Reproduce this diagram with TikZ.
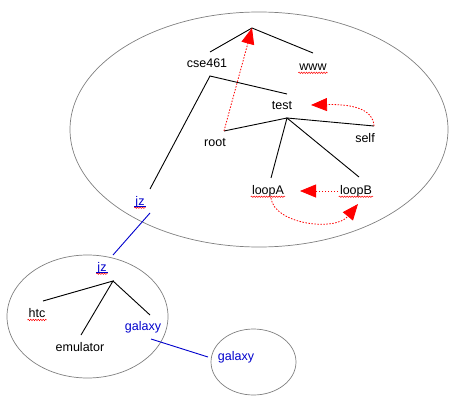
\documentclass[tikz,border=0pt]{standalone}
\usepackage{fontspec}
\setmainfont{Liberation Sans}
\usetikzlibrary{arrows.meta,shapes.geometric,decorations.pathmorphing}
\definecolor{linkblue}{RGB}{0,0,204}
\begin{document}
\begin{tikzpicture}[x=1pt,y=-1pt]
\tikzstyle {lbl}=[inner sep=1pt, font=\fontsize{12.5}{14}\selectfont]
\tikzstyle {lblb}=[lbl, text=linkblue]
\tikzstyle {oval}=[ellipse, draw=gray, line width=0.7pt, inner sep=0pt]
\tikzstyle {br}=[line width=0.9pt]
\tikzstyle {ptr}=[red, dash pattern=on 1.5pt off 1.5pt, line width=0.8pt, -{Triangle[length=16pt,width=13pt]}]
\tikzstyle {lnk}=[linkblue, line width=0.9pt]
\tikzstyle {wavy}=[red, line width=0.5pt, decorate, decoration={snake, amplitude=0.7pt, segment length=2.5pt}]
\useasboundingbox (0,0) rectangle (454,406);
\node (home) [oval, minimum width=378pt, minimum height=235pt] at (259,129.5) {};
\node (phone) [oval, minimum width=161pt, minimum height=123pt] at (87.5,316.5) {};
\node (dev) [oval, minimum width=85pt, minimum height=66pt] at (253.5,362) {};
\node (cse) [lbl] at (207,63) {cse461};
\node (www) [lbl] at (313,67) {www};
\node (test) [lbl] at (282,106) {test};
\node (root) [lbl] at (215,143) {root};
\node (self) [lbl] at (365,138) {self};
\node (loopA) [lbl] at (268,191) {loopA};
\node (loopB) [lbl] at (356,191) {loopB};
\node (jz) [lblb] at (140,202) {jz};
\node (jzb) [lblb] at (102,268) {jz};
\node (htc) [lbl] at (37,313) {htc};
\node (emu) [lbl] at (80,347) {emulator};
\node (gal) [lblb] at (143,327) {galaxy};
\node (galb) [lblb] at (236,357) {galaxy};
\coordinate (top) at (252,28);
\coordinate (cseup) at (210,52);
\coordinate (wwwup) at (313,53);
\coordinate (csedown) at (210,76);
\coordinate (jzup) at (150,189);
\coordinate (testup) at (287,94);
\coordinate (testdown) at (287,118);
\coordinate (rootup) at (224,131);
\coordinate (selfup) at (374,126);
\coordinate (loopAup) at (271,178);
\coordinate (loopBup) at (359,177);
\coordinate (jzbdown) at (113,281);
\coordinate (htcup) at (43,301);
\coordinate (emuup) at (81,335);
\coordinate (galup) at (150,315);
\coordinate (jzout) at (150,213);
\coordinate (jzin) at (113,255);
\coordinate (galout) at (151,339);
\coordinate (galin) at (208,357);
\coordinate (testtip) at (311,105);
\coordinate (loopBleft) at (338,191);
\coordinate (loopAtip) at (300,191);
\coordinate (loopAdown) at (271,198);
\coordinate (loopBtip) at (358,204);
\draw [br] (cseup) -- (top) -- (wwwup);
\draw [br] (jzup) -- (csedown) -- (testup);
\draw [br] (rootup) -- (testdown) -- (selfup);
\draw [br] (loopAup) -- (testdown) -- (loopBup);
\draw [br] (htcup) -- (jzbdown) -- (emuup);
\draw [br] (jzbdown) -- (galup);
\draw [lnk] (jzout) -- (jzin);
\draw [lnk] (galout) -- (galin);
\draw [ptr] (rootup) -- (top);
\draw [ptr] (selfup) .. controls (373,108) and (350,104) .. (testtip);
\draw [ptr] (loopBleft) -- (loopAtip);
\draw [ptr] (loopAdown) .. controls (274,224) and (335,232) .. (loopBtip);
\foreach \n in {www,loopA,loopB,jz,jzb,htc}
  \draw [wavy] ([yshift=-2.5pt]\n.base west) -- ([yshift=-2.5pt]\n.base east);
\foreach \n in {jz,jzb}
  \draw [linkblue, line width=0.5pt] ([yshift=-1.5pt]\n.base west) -- ([yshift=-1.5pt]\n.base east);
\end{tikzpicture}
\end{document}
